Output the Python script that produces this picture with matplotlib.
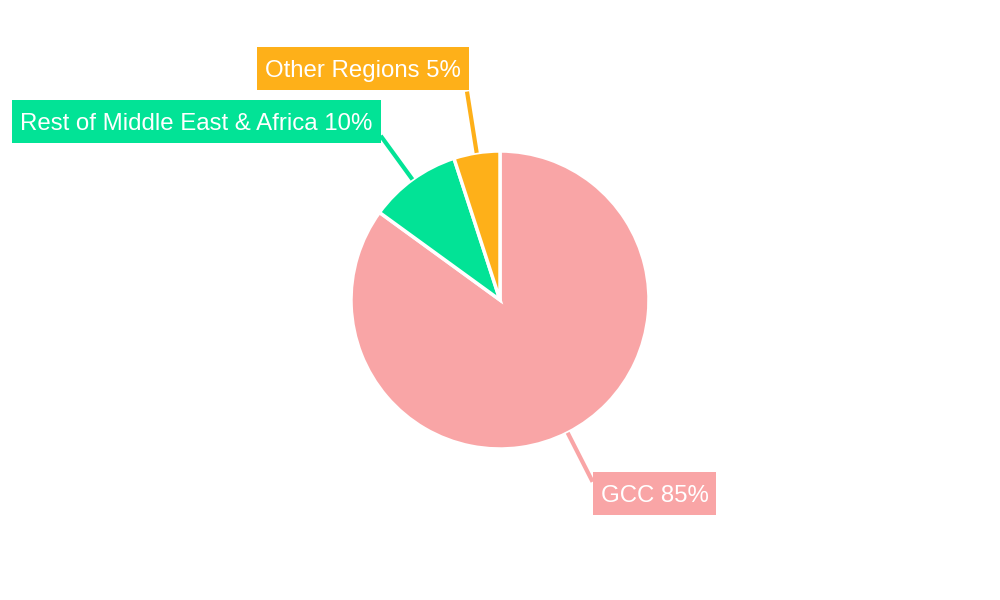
import numpy as np
import matplotlib.pyplot as plt
from matplotlib.patches import Rectangle

plt.rcParams['font.family'] = ['Liberation Sans', 'DejaVu Sans']

regions = ["GCC", "Rest of Middle East & Africa", "Other Regions"]
shares = [85, 10, 5]
colors = ["#F9A5A6", "#02E396", "#FEB019"]

# leader length (px) and box-centre offsets from the line end (px, y downward)
leader = [55, 54, 62]
offsets = [(8, 12), (-8, -14), (-6, -23)]

fig = plt.figure(figsize=(10, 6), dpi=100)
ax = fig.add_axes([0, 0, 1, 1])

cx, cy, r = 500, 300, 149
wedges, _ = ax.pie(shares, colors=colors, startangle=90, counterclock=False,
                   center=(cx, cy), radius=r, frame=True,
                   wedgeprops=dict(edgecolor="white", linewidth=2.5))
ax.set_xlim(0, 1000)
ax.set_ylim(0, 600)
ax.set_aspect("equal")
ax.axis("off")

renderer = fig.canvas.get_renderer()
fs = 17.3
cap = 0.72 * fs * 100 / 72
padx, boxh = 8, 43

for w, name, val, col, L, (dx, dy) in zip(wedges, regions, shares, colors, leader, offsets):
    ang = np.deg2rad((w.theta1 + w.theta2) / 2)
    ux, uy = np.cos(ang), np.sin(ang)
    x0, y0 = cx + r * ux, cy + r * uy
    x1, y1 = cx + (r + L) * ux, cy + (r + L) * uy
    ax.plot([x0, x1], [y0, y1], color=col, lw=3, solid_capstyle="butt", zorder=1)
    ha = "left" if ux > 0 else "right"
    tx, yc = x1 + dx, y1 - dy
    t = ax.text(tx, yc - cap / 2, f"{name} {val}%", ha=ha, va="baseline",
                fontsize=fs, color="white", zorder=4)
    bb = t.get_window_extent(renderer)
    ax.add_patch(Rectangle((bb.x0 - padx, yc - boxh / 2), bb.width + 2 * padx, boxh,
                           fc=col, ec="none", zorder=3))

fig.savefig("out.png", dpi=100)
